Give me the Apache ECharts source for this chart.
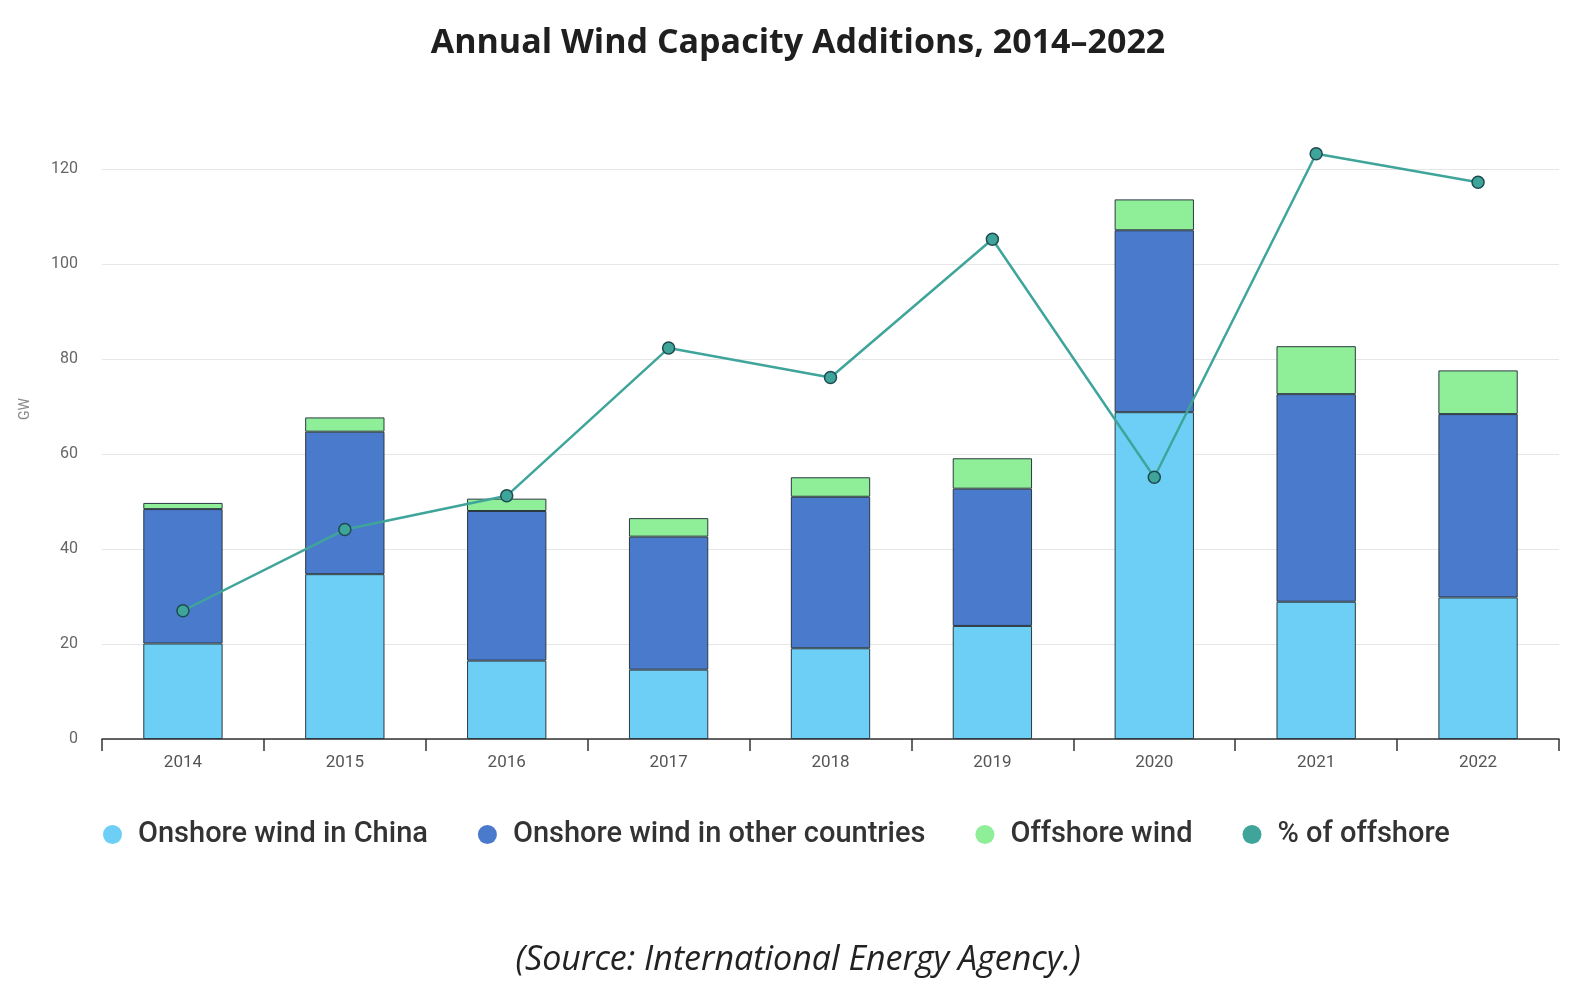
<!DOCTYPE html>
<html>
<head>
<meta charset="utf-8">
<title>Annual Wind Capacity Additions</title>
<script src="https://cdn.jsdelivr.net/npm/echarts@6/dist/echarts.min.js"></script>
<style>
  html, body { margin: 0; padding: 0; background: #fff; }
  #chart { width: 1596px; height: 998px; }
</style>
</head>
<body>
<div id="chart"></div>
<script>
// values (GW, % of offshore)
const years = ["2014", "2015", "2016", "2017", "2018", "2019", "2020", "2021", "2022"];
const onshoreChina = [20.1, 34.7, 16.5, 14.6, 19.1, 23.8, 68.8, 28.9, 29.8];
const onshoreOther = [28.3, 30.0, 31.5, 28.0, 31.9, 28.9, 38.3, 43.7, 38.6];
const offshore = [1.3, 3.0, 2.6, 3.9, 4.1, 6.4, 6.5, 10.1, 9.2];
const offshoreShare = [2.7, 4.41, 5.12, 8.23, 7.61, 10.52, 5.51, 12.32, 11.72];
const gwTicks = [0, 20, 40, 60, 80, 100, 120];

const colors = {
  china: "#6dcff6",
  other: "#4a7acb",
  off: "#8fee98",
  line: "#3fa59b"
};

const chart = echarts.init(document.getElementById("chart"));

const barItem = (c) => ({ color: c, borderColor: "#2b3a40", borderWidth: 1 });

chart.setOption({
  animation: false,
  textStyle: { fontFamily: "Roboto, sans-serif" },
  title: [
    {
      text: "Annual Wind Capacity Additions, 2014\u20132022",
      left: "center",
      top: 21,
      textStyle: { fontFamily: "Open Sans", fontWeight: "bold", fontSize: 34, color: "#1f1f1f" }
    },
    {
      text: "(Source: International Energy Agency.)",
      left: "center",
      top: 938,
      textStyle: { fontFamily: "Open Sans", fontStyle: "italic", fontWeight: "normal", fontSize: 34, color: "#222" }
    }
  ],
  graphic: [
    {
      type: "text",
      x: 18,
      y: 420,
      rotation: Math.PI / 2,
      style: { text: "GW", fill: "#888", fontSize: 14, fontFamily: "Roboto" }
    }
  ],
  legend: {
    left: 98,
    top: 815,
    icon: "circle",
    itemWidth: 19,
    itemHeight: 19,
    itemGap: 50,
    itemStyle: { borderWidth: 0 },
    textStyle: { fontFamily: "Roboto", fontSize: 29, fontWeight: 500, color: "#333", padding: [0, 0, 0, 11] },
    data: ["Onshore wind in China", "Onshore wind in other countries", "Offshore wind", "% of offshore"]
  },
  grid: { left: 102, right: 37, top: 169, bottom: 259 },
  xAxis: {
    type: "category",
    data: years,
    axisLine: { lineStyle: { color: "#333", width: 1.5 } },
    axisTick: { show: true, length: 12, lineStyle: { color: "#333", width: 1.5 } },
    axisLabel: { color: "#555", fontSize: 17, margin: 15 }
  },
  yAxis: [
    {
      type: "value",
      min: gwTicks[0],
      max: gwTicks[gwTicks.length - 1],
      interval: 20,
      axisLine: { show: false },
      axisTick: { show: false },
      axisLabel: { color: "#666", fontSize: 16, margin: 24 },
      splitLine: { lineStyle: { color: "#e6e6e6", width: 1 } }
    },
    {
      type: "value",
      min: 0,
      max: 12,
      show: false
    }
  ],
  series: [
    {
      name: "Onshore wind in China",
      type: "bar",
      stack: "gw",
      barWidth: "49%",
      itemStyle: barItem(colors.china),
      data: onshoreChina
    },
    {
      name: "Onshore wind in other countries",
      type: "bar",
      stack: "gw",
      itemStyle: barItem(colors.other),
      data: onshoreOther
    },
    {
      name: "Offshore wind",
      type: "bar",
      stack: "gw",
      itemStyle: barItem(colors.off),
      data: offshore
    },
    {
      name: "% of offshore",
      type: "line",
      yAxisIndex: 1,
      clip: false,
      symbol: "circle",
      symbolSize: 12,
      lineStyle: { color: colors.line, width: 2.5 },
      itemStyle: { color: colors.line, borderColor: "#1d4b4f", borderWidth: 1.5 },
      data: offshoreShare
    }
  ]
});
</script>
</body>
</html>
